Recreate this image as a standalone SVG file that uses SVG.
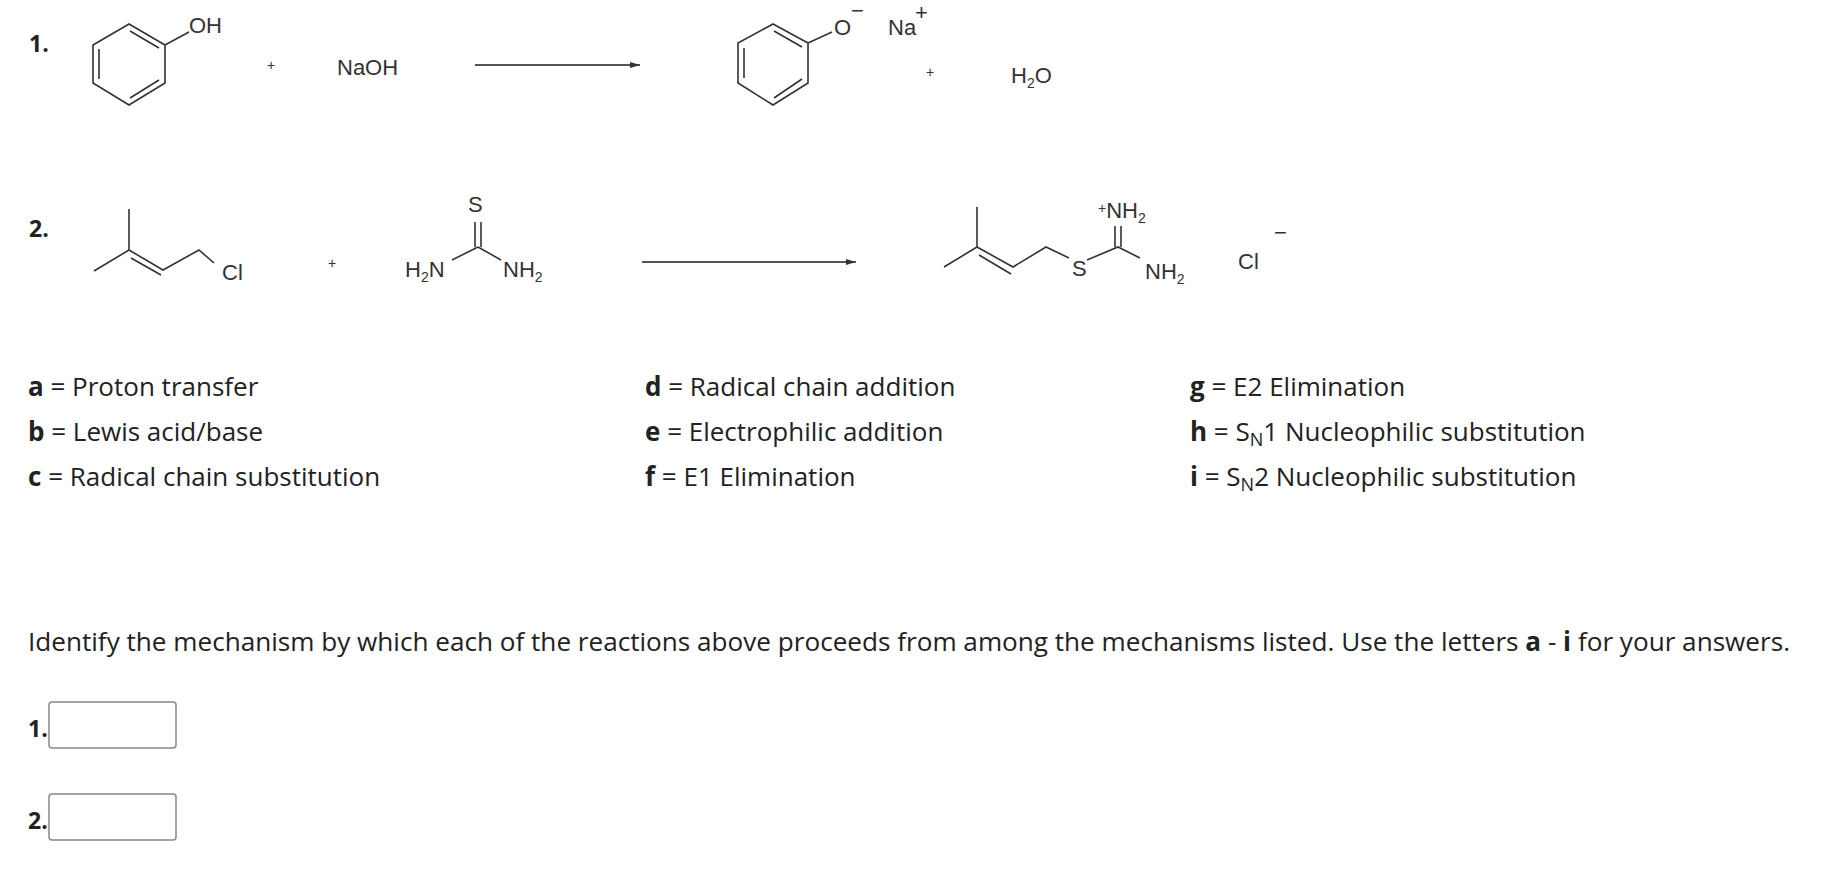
<svg xmlns="http://www.w3.org/2000/svg" width="1834" height="888" viewBox="0 0 1834 888">
<style>
.b{stroke:#333;stroke-width:1.6;fill:none}
.c{font-family:"Liberation Sans",Arial,sans-serif;font-size:22px;fill:#333}
.s{font-size:14px}
.t{font-family:"Open Sans","DejaVu Sans",sans-serif;font-size:26px;fill:#222}
.n{font-family:"Open Sans","DejaVu Sans",sans-serif;font-size:23px;font-weight:bold;fill:#222}
.bx{fill:#fff;stroke:#888;stroke-width:1.5}
</style>
<defs><marker id="ah" markerWidth="10" markerHeight="8" refX="10" refY="4" orient="auto" markerUnits="userSpaceOnUse"><path d="M0,1 L10,4 L0,7 Z" fill="#333"/></marker></defs>
<rect width="1834" height="888" fill="#fff"/>
<g id="r1-labels"><text class="n" x="29" y="52">1.</text><text class="n" x="29" y="237">2.</text></g>
<g id="phenol">
<path class="b" d="M129,24 L93,45 L93,83 L129,105 L165,83 L165,45 Z M99,49 L99,79 M130,31 L159,48 M159,80 L130,98 M165,45 L189,32"/>
<text class="c" x="189" y="33">OH</text></g>
<g id="plus1"><text class="c s" x="267" y="70">+</text></g>
<g id="naoh"><text class="c" x="337" y="75">NaOH</text></g>
<g id="phenoxide">
<path class="b" d="M773,24 L738,43 L738,83 L773,105 L808,83 L808,43 Z M744,48 L744,78 M774,31 L802,47 M802,79 L774,98 M808,43 L832,32"/>
<text class="c" x="851" y="18" font-size="16">−</text><text class="c" x="834" y="35">O</text>
<text class="c" x="888" y="35">Na</text><text class="c" x="915" y="20" font-size="18">+</text></g>
<g id="plus2"><text class="c s" x="926" y="77">+</text></g>
<g id="water"><text class="c" x="1011" y="83">H<tspan class="s" dy="5">2</tspan><tspan dy="-5">O</tspan></text></g>
<g id="prenylcl">
<path class="b" d="M129,209 L129,250 M94,271 L129,250 L163,270 L199,250 L214,263 M131,258 L161,275"/>
<text class="c" x="222" y="280">Cl</text></g>
<g id="plus3"><text class="c s" x="328" y="268">+</text></g>
<g id="thiourea">
<text class="c" x="468" y="212">S</text>
<path class="b" d="M475,222 L475,247 M481,222 L481,247 M478,247 L452,260 M478,247 L501,260"/>
<text class="c" x="405" y="277">H<tspan class="s" dy="5">2</tspan><tspan dy="-5">N</tspan></text>
<text class="c" x="503" y="277">NH<tspan class="s" dy="5">2</tspan></text></g>
<g id="product2">
<path class="b" d="M977,207 L977,247 M944,267 L977,247 L1013,267 L1046,247 L1069,258 M979,255 L1011,274 M1087,260 L1118,247 L1140,258 M1115,226 L1115,247 M1121,226 L1121,247"/>
<text class="c" x="1072" y="276">S</text>
<text class="c" x="1098" y="218"><tspan class="s" dy="-5">+</tspan><tspan dy="5">NH</tspan><tspan class="s" dy="5">2</tspan></text>
<text class="c" x="1145" y="279">NH<tspan class="s" dy="5">2</tspan></text>
<text class="c" x="1238" y="269">Cl</text><text class="c" x="1274" y="240" font-size="16">−</text></g>
<g id="connectors">
<line x1="475" y1="65" x2="640" y2="65" stroke="#555" stroke-width="2" marker-end="url(#ah)"/>
<line x1="642" y1="262" x2="856" y2="262" stroke="#555" stroke-width="2" marker-end="url(#ah)"/>
</g>
<g id="legend">
<text class="t" x="28" y="396"><tspan font-weight="bold">a</tspan> = Proton transfer</text>
<text class="t" x="28" y="441"><tspan font-weight="bold">b</tspan> = Lewis acid/base</text>
<text class="t" x="28" y="486"><tspan font-weight="bold">c</tspan> = Radical chain substitution</text>
<text class="t" x="645" y="396"><tspan font-weight="bold">d</tspan> = Radical chain addition</text>
<text class="t" x="645" y="441"><tspan font-weight="bold">e</tspan> = Electrophilic addition</text>
<text class="t" x="645" y="486"><tspan font-weight="bold">f</tspan> = E1 Elimination</text>
<text class="t" x="1190" y="396"><tspan font-weight="bold">g</tspan> = E2 Elimination</text>
<text class="t" x="1190" y="441"><tspan font-weight="bold">h</tspan> = S<tspan font-size="18" dy="5">N</tspan><tspan dy="-5">1 Nucleophilic substitution</tspan></text>
<text class="t" x="1190" y="486"><tspan font-weight="bold">i</tspan> = S<tspan font-size="18" dy="5">N</tspan><tspan dy="-5">2 Nucleophilic substitution</tspan></text>
</g>
<g id="question">
<text class="t" x="28" y="651" font-size="24" textLength="1762" lengthAdjust="spacingAndGlyphs">Identify the mechanism by which each of the reactions above proceeds from among the mechanisms listed. Use the letters <tspan font-weight="bold">a</tspan> - <tspan font-weight="bold">i</tspan> for your answers.</text>
</g>
<g id="answer1"><text class="n" x="28" y="737">1.</text><rect class="bx" x="49" y="702" width="127" height="46" rx="3"/></g>
<g id="answer2"><text class="n" x="28" y="829">2.</text><rect class="bx" x="49" y="794" width="127" height="46" rx="3"/></g>
</svg>
